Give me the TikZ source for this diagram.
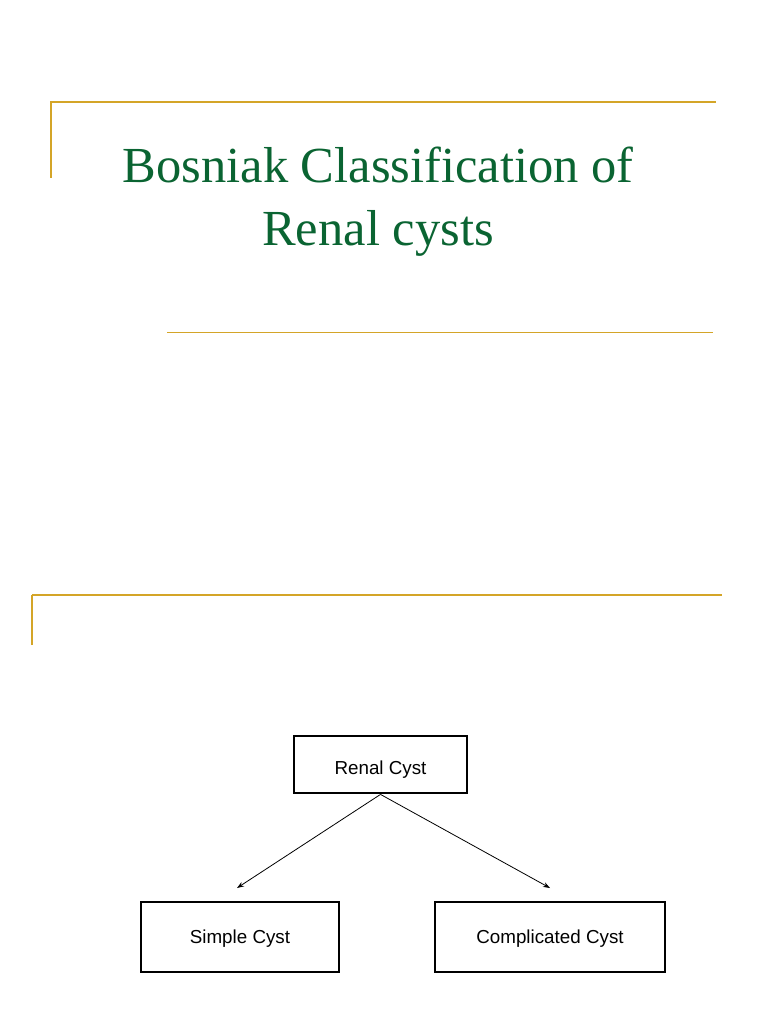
\documentclass[tikz,border=0pt]{standalone}
\usepackage{fontspec}
\setmainfont{Liberation Serif}
\newfontfamily\boxfont{Liberation Sans}
\usetikzlibrary{arrows.meta}
\definecolor{goldline}{RGB}{212,165,40}
\definecolor{titlegreen}{RGB}{10,100,50}
\tikzset{
  gold/.style={draw=goldline,line width=1.4pt},
  goldthick/.style={draw=goldline,line width=2pt},
  cystbox/.style={draw=black,line width=2.8pt,minimum height=#1,inner sep=0pt},
  boxtext/.style={inner sep=0pt,font=\boxfont\fontsize{18.8}{22}\selectfont},
  conn/.style={draw=black,line width=0.8pt,-{Stealth[length=7pt,width=5pt]}},
  titletext/.style={text=titlegreen,font=\fontsize{50.5}{60}\selectfont}
}
\begin{document}
\begin{tikzpicture}[x=1pt,y=-1pt]
\useasboundingbox (0,0) rectangle (768,1024);
\fill[white] (0,0) rectangle (768,1024);
% slide 1 frame
\coordinate (t1a) at (51,178);
\coordinate (t1b) at (51,102);
\coordinate (t1c) at (716,102);
\draw[gold] (t1a) -- (t1b) -- (t1c);
\coordinate (u1a) at (167,332);
\coordinate (u1b) at (713,332);
\draw[gold,line width=1pt] (u1a) -- (u1b);
\node[titletext,anchor=base] (title1) at (378,183) {Bosniak Classification of};
\node[titletext,anchor=base] (title2) at (378,245) {Renal cysts};
% slide 2 frame
\coordinate (s2a) at (32,645);
\coordinate (s2b) at (32,595);
\coordinate (s2c) at (722,595);
\draw[gold,line width=1.2pt] (s2a) -- (s2b);
\draw[goldthick] (s2b) -- (s2c);
% boxes
\node[cystbox=57pt,minimum width=173pt] (renal) at (380.5,764.5) {};
\node[cystbox=70pt,minimum width=198pt] (simple) at (240,937) {};
\node[cystbox=70pt,minimum width=230pt] (compl) at (550,937) {};
\node[boxtext] (renaltxt) at ([yshift=-5.5pt]renal.center) {Renal Cyst};
\node[boxtext] (simpletxt) at ([yshift=-2pt]simple.center) {Simple Cyst};
\node[boxtext] (compltxt) at ([yshift=-2pt]compl.center) {Complicated Cyst};
\coordinate (sa) at (237,888);
\coordinate (ca) at (550,888);
\draw[conn] (renal.south) -- (sa);
\draw[conn] (renal.south) -- (ca);
\end{tikzpicture}
\end{document}
